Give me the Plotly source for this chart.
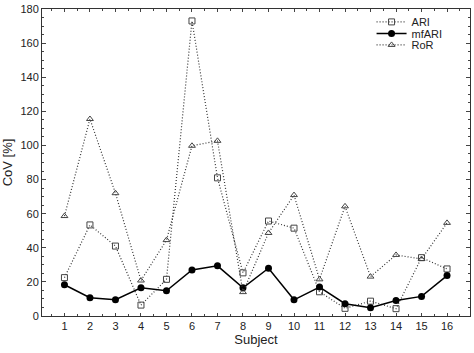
import plotly.graph_objects as go

subjects = list(range(1, 17))
ari = [22.5, 53.4, 41, 6.4, 21.5, 173, 81, 25.3, 55.7, 51.5, 14.2, 4.5, 8.7, 4.3, 34.2, 27.6]
mfari = [18.3, 10.7, 9.5, 16.5, 14.8, 27, 29.4, 16.5, 28, 9.5, 17, 7.2, 4.9, 9.1, 11.5, 23.7]
ror = [58.6, 115.5, 72, 20.8, 44.5, 99.8, 102.7, 14, 48.7, 70.9, 21.5, 64.3, 23.1, 35.8, 33.4, 54.6]
x_ticks = list(range(1, 17))
y_ticks = list(range(0, 181, 20))

fig = go.Figure()
fig.add_trace(go.Scatter(x=subjects, y=ari, name="ARI", mode="lines+markers", legend="legend",
                         line=dict(color="#333", width=1.2, dash="1px,2px"),
                         marker=dict(symbol="square-open", size=6, color="#444", line=dict(width=1))))
fig.add_trace(go.Scatter(x=subjects, y=mfari, name="mfARI", mode="lines+markers", legend="legend2",
                         line=dict(color="black", width=1.5),
                         marker=dict(symbol="circle", size=7, color="black")))
fig.add_trace(go.Scatter(x=subjects, y=ror, name="RoR", mode="lines+markers", legend="legend3",
                         line=dict(color="#333", width=1.2, dash="1px,2px"),
                         marker=dict(symbol="triangle-up-open", size=6, color="#444", line=dict(width=1))))

font = dict(family="Liberation Sans, Arial, sans-serif", size=11, color="#222")
leg = dict(x=0.77, xanchor="left", yanchor="middle", bgcolor="rgba(0,0,0,0)",
           font=dict(size=11), itemwidth=30)
fig.update_layout(
    width=474, height=353,
    margin=dict(l=42, r=3, t=7, b=37),
    paper_bgcolor="white", plot_bgcolor="white",
    font=font,
    showlegend=True,
    legend=dict(leg, y=0.958),
    legend2=dict(leg, y=0.92),
    legend3=dict(leg, y=0.883),
    xaxis=dict(range=[0.12, 16.9], tickvals=x_ticks, ticks="inside", ticklen=3,
               showgrid=False, zeroline=False, showline=True, linecolor="#333", linewidth=1,
               mirror="allticks", title=dict(text="Subject", standoff=2),
               minor=dict(ticks="inside", ticklen=2, dtick=0.5, tick0=0)),
    yaxis=dict(range=[0, 180], tickvals=y_ticks, ticks="inside", ticklen=4,
               showgrid=False, zeroline=False, showline=True, linecolor="#333", linewidth=1,
               mirror="allticks", title=dict(text="CoV [%]", standoff=6),
               minor=dict(ticks="inside", ticklen=2, dtick=5, tick0=0)),
)
fig.write_html("out.html")
